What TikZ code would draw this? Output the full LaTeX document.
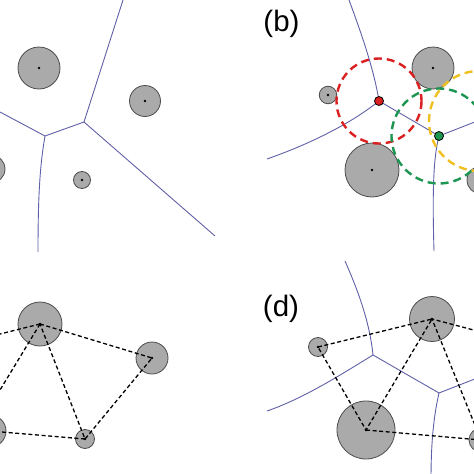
\documentclass[tikz,border=0pt]{standalone}
\usepackage{fontspec}
\setmainfont{Liberation Sans}
\definecolor{vorblue}{RGB}{96,96,168}
\definecolor{diskgray}{RGB}{170,170,170}
\definecolor{ringred}{RGB}{218,32,32}
\definecolor{ringgreen}{RGB}{28,150,82}
\definecolor{ringyellow}{RGB}{240,192,32}
\begin{document}
\begin{tikzpicture}[x=1pt, y=-1pt,
  disk/.style={circle, draw=black!70, line width=0.8pt, fill=diskgray, inner sep=0pt},
  edge/.style={vorblue, line width=0.9pt},
  link/.style={black, line width=1.3pt, dash pattern=on 4pt off 2.6pt},
  ring/.style={line width=2.4pt, dash pattern=on 8pt off 5pt},
  vertex/.style={circle, draw=black, line width=0.8pt, inner sep=0pt, minimum size=9pt},
  tag/.style={font=\fontsize{29.5}{32}\selectfont, inner sep=0pt}]
  % parameters
  \def\dotr{1.3}

  % the figure is a crop: fix the page and clip
  \useasboundingbox (0,0) rectangle (474,474);
  \clip (0,0) rectangle (474,474);

  % 1. Voronoi edges
  % (a)
  \coordinate (va1) at (84,122);
  \coordinate (va2) at (45,136);
  \coordinate (ea1) at (123,0);
  \coordinate (ea2) at (0,112);
  \coordinate (ea3) at (215,236);
  \coordinate (ea4) at (38,252);
  \draw[edge] (ea1) -- (va1) -- (va2) -- (ea2);
  \draw[edge] (va1) -- (ea3);
  \draw[edge] (va2) .. controls (40,165) and (38,195) .. (ea4);

  % (b)
  \coordinate (vb1) at (379,101);
  \coordinate (vb2) at (439,136);
  \coordinate (eb1) at (349,0);
  \coordinate (eb2) at (267,159);
  \coordinate (eb3) at (490,116);
  \coordinate (eb4) at (434,251);
  \draw[edge] (eb1) .. controls (362,35) and (374,70) .. (vb1);
  \draw[edge] (vb1) .. controls (349,125) and (307,145) .. (eb2);
  \draw[edge] (vb1) -- (vb2) -- (eb3);
  \draw[edge] (vb2) .. controls (434,155) and (432,185) .. (eb4);

  % (d)
  \coordinate (vd1) at (373,355);
  \coordinate (vd2) at (439,393);
  \coordinate (ed1) at (345,261);
  \coordinate (ed2) at (267,411);
  \coordinate (ed3) at (490,373);
  \coordinate (ed4) at (431,480);
  \draw[edge] (ed1) .. controls (360,295) and (370,325) .. (vd1);
  \draw[edge] (vd1) .. controls (345,372) and (305,398) .. (ed2);
  \draw[edge] (vd1) -- (vd2) -- (ed3);
  \draw[edge] (vd2) .. controls (434,415) and (431,440) .. (ed4);

  % 2. Disks
  % (a)
  \node[disk, minimum size=42] (a1) at (39,68) {};
  \node[disk, minimum size=31] (a2) at (145,101) {};
  \node[disk, minimum size=17] (a3) at (82,180) {};
  \node[disk, minimum size=28] (a4) at (-9,169) {};
  % (b)
  \node[disk, minimum size=17.5] (b1) at (328,95) {};
  \node[disk, minimum size=42] (b2) at (433,68) {};
  \node[disk, minimum size=54] (b3) at (372,170) {};
  \node[disk, minimum size=28] (b4) at (481,180) {};
  % (c)
  \node[disk, minimum size=44] (c1) at (40,324) {};
  \node[disk, minimum size=32] (c2) at (152,358) {};
  \node[disk, minimum size=19] (c3) at (85,439) {};
  \node[disk, minimum size=32] (c4) at (-10,431) {};
  \coordinate (c5) at (-40,344);
  \coordinate (c6) at (-20,423);
  % (d)
  \node[disk, minimum size=19] (d1) at (318,347) {};
  \node[disk, minimum size=45] (d2) at (432,319) {};
  \node[disk, minimum size=58] (d3) at (366,430) {};
  \node[disk, minimum size=24] (d4) at (481,440) {};
  \coordinate (d5) at (500,337);

  % centre dots
  \foreach \n in {a1,a2,a3,a4,b1,b2,b3,b4,c1,c2,c3,c4,d1,d2,d3,d4}
    \fill (\n) circle[radius=\dotr];

  % 3. Dashed links (c) and (d)
  \draw[link] (c1.center) -- (c2.center) -- (c3.center) -- (c1.center);
  \draw[link] (c3.center) -- (c4.center);
  \draw[link] (c1.center) -- (c5);
  \draw[link] (c1.center) -- (c6);
  \draw[link] (d1.center) -- (d2.center) -- (d3.center) -- (d1.center);
  \draw[link] (d3.center) -- (d4.center) -- (d2.center) -- (d5);

  % 4. Empty circles of (b)
  \coordinate (yb) at (479,121);
  \draw[ring, ringred] (vb1) circle[radius=42.5];
  \draw[ring, ringgreen] (vb2) circle[radius=47.5];
  \draw[ring, ringyellow] (yb) circle[radius=50];
  \node[vertex, fill=ringred] (pr) at (vb1) {};
  \node[vertex, fill=ringgreen] (pg) at (vb2) {};

  % 5. Panel labels
  \node[tag] (lb) at (281.5,23.5) {(b)};
  \node[tag] (ld) at (281,308.5) {(d)};
\end{tikzpicture}
\end{document}
